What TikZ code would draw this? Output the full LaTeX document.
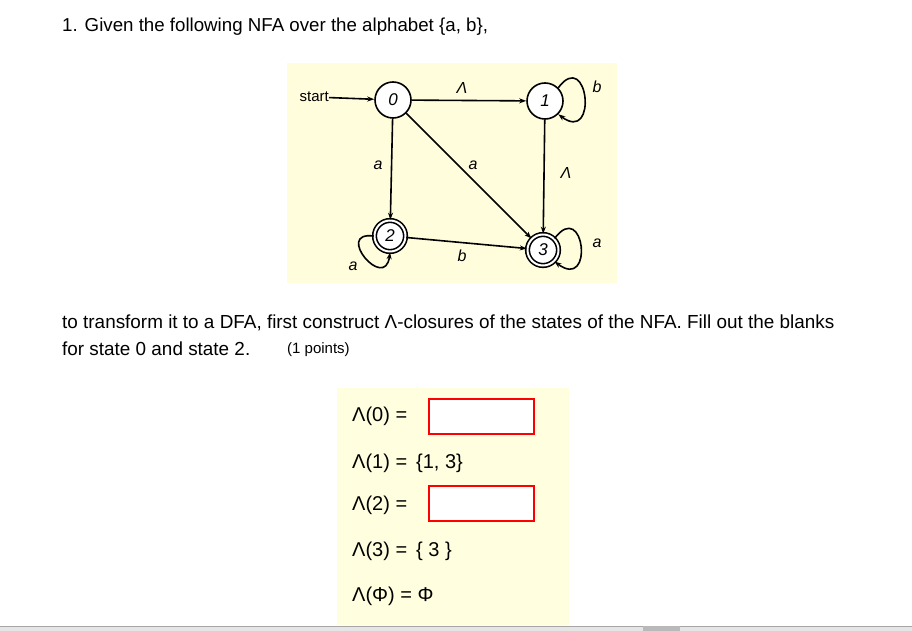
\documentclass[tikz,border=0pt]{standalone}
\usepackage{fontspec}
\setmainfont{Liberation Sans}
\usetikzlibrary{arrows.meta}
\definecolor{nfabg}{HTML}{FFFDDC}
\definecolor{ansbg}{HTML}{FFFFE0}
\begin{document}
\begin{tikzpicture}[x=1pt, y=-1pt, >={Stealth[length=7pt,width=5pt]},
    state/.style={circle, draw, line width=1.6pt, fill=white, minimum size=36pt, inner sep=0pt, font=\fontsize{17}{17}\selectfont},
    accept/.style={state, double, double distance=2pt, minimum size=31pt},
    lbl/.style={font=\fontsize{16}{16}\selectfont\itshape},
    edge/.style={->, line width=1.6pt},
    line/.style={anchor=west, font=\fontsize{20}{20}\selectfont},
    blank/.style={draw=red, line width=2pt, fill=white, minimum width=105pt, minimum height=35pt}]
    % Bounding box and backgrounds
    \useasboundingbox (0,0) rectangle (912,631);
    \fill[nfabg] (287,63) rectangle (617,283);
    \fill[ansbg] (337,388) rectangle (569,625);
    \fill[gray!20] (0,626) rectangle (912,631);
    \draw[gray!70] (0,626) -- (912,626);
    \fill[gray!55] (643,626) rectangle (680,631);

    % Question text
    \node[anchor=west, inner xsep=0pt, font=\fontsize{18.7}{18.7}\selectfont] (title) at (62,27)
        {1. Given the following NFA over the alphabet \{a, b\},};
    \node[anchor=west, inner xsep=0pt, font=\fontsize{18.9}{18.9}\selectfont] (text1) at (62,323)
        {to transform it to a DFA, first construct Λ-closures of the states of the NFA. Fill out the blanks};
    \node[anchor=west, inner xsep=0pt, font=\fontsize{18.9}{18.9}\selectfont] (text2) at (62,349)
        {for state 0 and state 2.};
    \node[anchor=west, inner xsep=0pt, font=\fontsize{15}{15}\selectfont] (pts) at (287,350) {(1 points)};

    % The NFA
    \node[state] (q0) at (393,100) {\itshape 0};
    \node[state] (q1) at (545,101) {\itshape 1};
    \node[accept] (q2) at (390,236) {\itshape 2};
    \node[accept] (q3) at (543,250) {\itshape 3};
    \node[anchor=east, inner sep=0pt, font=\fontsize{15}{15}\selectfont] (start) at (329,97) {start};

    \draw[edge] (start) -- (q0);
    \draw[edge] (q0) -- (q1);
    \draw[edge] (q0) -- (q2);
    \draw[edge] (q0) -- (q3);
    \draw[edge] (q1) -- (q3);
    \draw[edge] (q2) -- (q3);
    \draw[edge] (q1.north east) .. controls +(30,-40) and +(40,30) .. (q1.south east);
    \draw[edge] (q3.north east) .. controls +(30,-40) and +(40,30) .. (q3.south east);
    \draw[edge] (q2.west) .. controls +(-40,-5) and +(-5,40) .. (q2.south);

    \node[lbl] (l01) at (462,88) {Λ};
    \node[lbl] (l02) at (378,165) {a};
    \node[lbl] (l03) at (473,165) {a};
    \node[lbl] (l13) at (566,173) {Λ};
    \node[lbl] (l11) at (597,87) {b};
    \node[lbl] (l33) at (597,243) {a};
    \node[lbl] (l23) at (462,256) {b};
    \node[lbl] (l22) at (353,266) {a};

    % The closures
    \node[line, inner xsep=0pt] (c0) at (352,416) {Λ(0) =};
    \node[blank] (b0) at (481,416) {};
    \node[line, inner xsep=0pt] (c1) at (352,463) {Λ(1) =\, \{1, 3\}};
    \node[line, inner xsep=0pt] (c2) at (352,505) {Λ(2) =};
    \node[blank] (b2) at (481,503) {};
    \node[line, inner xsep=0pt] (c3) at (352,551) {Λ(3) =\, \{ 3 \}};
    \node[line, inner xsep=0pt] (cp) at (352,596) {Λ(Φ) = Φ};
\end{tikzpicture}
\end{document}
